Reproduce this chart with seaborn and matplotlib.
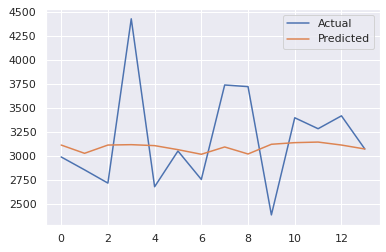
import matplotlib
matplotlib.use("Agg")
import matplotlib.pyplot as plt
import seaborn as sns
import pandas as pd

x = list(range(14))
actual = [2992, 2858, 2720, 4430, 2682, 3054, 2758, 3741, 3724, 2389, 3400, 3286, 3420, 3075]
predicted = [3116, 3030, 3116, 3120, 3110, 3068, 3020, 3096, 3023, 3124, 3141, 3147, 3116, 3075]

sns.set_theme(style="darkgrid")

fig, ax = plt.subplots(figsize=(386/72, 252/72), dpi=72)
sns.lineplot(x=x, y=actual, ax=ax, label="Actual")
sns.lineplot(x=x, y=predicted, ax=ax, label="Predicted")
ax.set_xticks([0, 2, 4, 6, 8, 10, 12])
ax.set_yticks([2500, 2750, 3000, 3250, 3500, 3750, 4000, 4250, 4500])
ax.legend(loc="upper right")
fig.subplots_adjust(left=46/386, right=380/386, top=1-9/252, bottom=1-224.7/252)
fig.savefig("out.png", dpi=72)
